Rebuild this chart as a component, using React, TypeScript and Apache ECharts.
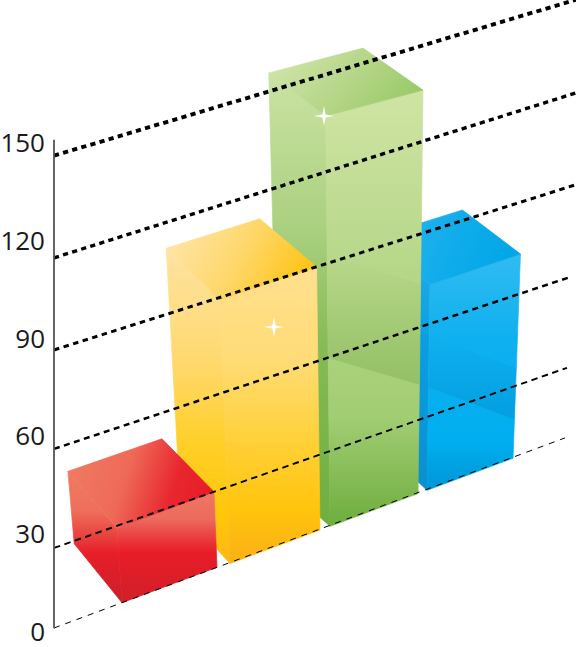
import React, { useEffect, useRef } from "react";
import * as echarts from "echarts";

const CATEGORIES = ["Red", "Yellow", "Green", "Blue"];
const VALUES = [30, 90, 136, 73];
const TICKS = [0, 30, 60, 90, 120, 150];

// Receding guide plane, in y-axis units, one entry per tick
const GUIDE_START = [0.77, 25.36, 55.8, 86.2, 114.5, 145.9];
const GUIDE_SLOPE = [0.1143, 0.1079, 0.1023, 0.0973, 0.0971, 0.0918];
const GUIDE_END_X = [565, 567, 571, 576, 576, 576];
const GUIDE_WIDTH = [1, 1.9, 2.5, 3, 3.4, 3.9];
const GUIDE_DASH = [[6, 6], [6.5, 4.5], [6, 4.5], [5.5, 4.5], [5.2, 4.3], [5.2, 4.3]];

// Layout of each box on the floor
const FLOOR_FRONT_X = [122, 230, 330, 427];
const FLOOR_RIGHT_X = [217, 320, 418, 513];
const FRONT_SHIFT_Y = [2.5, 3, -4, 1];
const FLOOR_SHIFT_Y = [0, 1, 1, 1];
const BACK_SHIFT_Y = [4, 4, 1, 3];
const LEFT_OFFSET = [[-49, -57], [-54, -52], [-57, -43], [-55, -47]];
const VANISH_X = 370;
const TILT = 8.46e-4;
const AXIS_X = 54;

const linear = (x0: number, y0: number, x1: number, y1: number, stops: [number, string][]) =>
  new echarts.graphic.LinearGradient(x0, y0, x1, y1, stops.map(([offset, color]) => ({ offset, color })));

const FACE_STYLES = [
  {
    top: [[0, "#f07a62"], [0.4, "#ee6a58"], [0.75, "#e8262e"], [1, "#e81c28"]],
    topDir: [0, 0.3, 1, 0.5],
    left: [[0, "#f07a62"], [0.3, "#ee6f5c"], [0.5, "#e8403c"], [0.62, "#e81e28"], [1, "#c9202b"]],
    right: [[0, "#ef7764"], [0.25, "#ec6a5c"], [0.45, "#e9343a"], [0.55, "#e81c27"], [1, "#cf2029"]],
  },
  {
    top: [[0, "#fee5a8"], [0.5, "#fed76a"], [1, "#ffc20e"]],
    topDir: [0, 0.3, 1, 0.6],
    left: [[0, "#fee3a2"], [0.35, "#ffd970"], [0.62, "#ffcf28"], [0.85, "#ffc60a"], [1, "#fdb813"]],
    right: [[0, "#ffe08e"], [0.3, "#ffdc78"], [0.6, "#ffd036"], [0.82, "#ffc40c"], [1, "#fbb017"]],
  },
  {
    top: [[0, "#cfe4aa"], [0.5, "#b6d688"], [1, "#97c966"]],
    topDir: [0, 0.3, 1, 0.7],
    left: [[0, "#cbe2a3"], [0.35, "#a9d07f"], [0.6, "#86bb55"], [1, "#6fae3f"]],
    right: [[0, "#cfe4a4"], [0.45, "#b4d686"], [0.75, "#a2cd73"], [1, "#6dad3e"]],
  },
  {
    top: [[0, "#2ab5ee"], [0.6, "#0dabea"], [1, "#00a6e6"]],
    topDir: [0, 0.4, 1, 0.6],
    left: [[0, "#28aeea"], [0.4, "#0a9fe0"], [1, "#0a8fd0"]],
    right: [[0, "#30bcf1"], [0.35, "#10b0ef"], [0.8, "#00aeef"], [1, "#0095d6"]],
  },
];

// Shaded sweep on the front-right faces: where it ends on the near and far edge, its tint
const SWEEP_NEAR = [0, 0, 0.59, 0.5];
const SWEEP_FAR = [0, 0, 0.73, 0.81];
const SWEEP_TINT = ["", "", "74,130,32", "0,96,160"];

const SPARKLES = [[324, 116], [274, 327]];

function guideLevel(x: number, value: number) {
  const i = Math.min(Math.floor(value / 30), TICKS.length - 2);
  const t = (value - TICKS[i]) / 30;
  const a = GUIDE_START[i] + GUIDE_SLOPE[i] * (x - AXIS_X);
  const b = GUIDE_START[i + 1] + GUIDE_SLOPE[i + 1] * (x - AXIS_X);
  return a + (b - a) * t;
}

function renderBox(params: any, api: any) {
  const c = api.value(0) as number;
  const value = api.value(1) as number;
  const style = FACE_STYLES[c];
  const fx = FLOOR_FRONT_X[c];
  const rx = FLOOR_RIGHT_X[c];

  const floor = (x: number, dy: number) => {
    const p = api.coord([x, guideLevel(x, 0)]);
    return [p[0], p[1] + dy];
  };
  const lift = (x: number) => guideLevel(x, value) - guideLevel(x, 0);
  const lean = (x: number) => x + (x - VANISH_X) * TILT * lift(x);

  const bf = floor(fx, FLOOR_SHIFT_Y[c]);
  const br = floor(rx, FLOOR_SHIFT_Y[c]);
  const tfx = lean(fx);
  const trx = lean(rx);
  const tfRaw = api.coord([tfx, guideLevel(tfx, value)]);
  const tf = [tfRaw[0], tfRaw[1] + FRONT_SHIFT_Y[c]];
  const tr = api.coord([trx, guideLevel(trx, value)]);
  const [ox, oy] = LEFT_OFFSET[c];
  const tl = [tf[0] + ox, tf[1] + oy];
  const tb = [tl[0] + tr[0] - tf[0] - 3, tl[1] + tr[1] - tf[1] + BACK_SHIFT_Y[c]];
  const blx = tl[0] - (tl[0] - VANISH_X) * TILT * lift(tl[0]);
  const bl = [blx, bf[1] + oy - 2];

  // a hairline of the face's own paint closes the seams between adjoining faces
  const poly = (points: number[][], fill: any) => ({
    type: "polygon",
    shape: { points },
    style: { fill, stroke: fill, lineWidth: 0.7 },
  });
  const down = (stops: any) => linear(0, 0, 0, 1, stops);
  const [d0, d1, d2, d3] = style.topDir as number[];

  const children: any[] = [
    poly([tl, tf, bf, bl], down(style.left)),
    poly([tf, tr, br, bf], down(style.right)),
    poly([tl, tb, tr, tf], linear(d0, d1, d2, d3, style.top as any)),
  ];

  if (SWEEP_TINT[c]) {
    const along = (a: number[], b: number[], t: number) => [a[0] + (b[0] - a[0]) * t, a[1] + (b[1] - a[1]) * t];
    const near = SWEEP_NEAR[c];
    const far = SWEEP_FAR[c];
    children.push({
      type: "polygon",
      shape: {
        points: [along(tf, bf, near - 0.25), along(tr, br, far - 0.25), along(tr, br, far), along(tf, bf, near)],
      },
      style: {
        stroke: "none",
        fill: linear(0, 0, 0, 1, [
          [0, `rgba(${SWEEP_TINT[c]},0)`],
          [1, `rgba(${SWEEP_TINT[c]},0.2)`],
        ]),
      },
    });
  }
  return { type: "group", children };
}

function renderGuide(params: any, api: any) {
  const i = params.dataIndex as number;
  const end = GUIDE_END_X[i];
  const a = api.coord([AXIS_X, GUIDE_START[i]]);
  const b = api.coord([end, GUIDE_START[i] + GUIDE_SLOPE[i] * (end - AXIS_X)]);
  return {
    type: "line",
    shape: { x1: a[0], y1: a[1], x2: b[0], y2: b[1] },
    style: { stroke: "#000", lineWidth: GUIDE_WIDTH[i], lineDash: GUIDE_DASH[i], fill: "none" },
  };
}

function renderAxisLine(params: any, api: any) {
  const a = api.coord([AXIS_X, 150.8]);
  const b = api.coord([AXIS_X, 0.68]);
  return {
    type: "line",
    shape: { x1: a[0], y1: a[1], x2: b[0], y2: b[1] },
    style: { stroke: "#555", lineWidth: 1.8, fill: "none" },
  };
}

function sparkle(cx: number, cy: number) {
  const arm = 10;
  const waist = 1.6;
  return {
    type: "polygon",
    silent: true,
    z: 20,
    shape: {
      points: [
        [cx, cy - arm],
        [cx + waist, cy - waist],
        [cx + arm, cy],
        [cx + waist, cy + waist],
        [cx, cy + arm],
        [cx - waist, cy + waist],
        [cx - arm, cy],
        [cx - waist, cy - waist],
      ],
    },
    style: { fill: "#fff", stroke: "none" },
  };
}

export default function App() {
  const ref = useRef<HTMLDivElement>(null);
  useEffect(() => {
    const chart = echarts.init(ref.current!, undefined, { renderer: "svg" });
    // far boxes are painted first so that the nearer ones cover them
    const boxes = CATEGORIES.map((name, i) => ({ name, value: [i, VALUES[i]] })).reverse();
    chart.setOption({
      animation: false,
      backgroundColor: "#fff",
      grid: { left: AXIS_X, right: 0, top: 142.3, bottom: 16.5, containLabel: false, outerBoundsMode: "none" },
      xAxis: { type: "value", min: AXIS_X, max: 576, show: false },
      yAxis: {
        type: "value",
        min: 0,
        max: 150,
        interval: 30,
        axisLine: { show: false },
        axisTick: { show: false },
        splitLine: { show: false },
        axisLabel: {
          margin: 9,
          fontFamily: "Open Sans",
          fontSize: 26,
          color: "#1a1a1a",
          formatter: (v: number) => (TICKS.includes(v) ? String(v) : ""),
        },
      },
      graphic: SPARKLES.map(([x, y]) => sparkle(x, y)),
      series: [
        {
          type: "custom",
          name: "Boxes",
          z: 2,
          clip: false,
          silent: true,
          renderItem: renderBox,
          encode: { x: 0, y: 1 },
          data: boxes,
        },
        {
          type: "custom",
          name: "Guides",
          z: 3,
          clip: false,
          silent: true,
          renderItem: renderGuide,
          encode: { x: 0, y: 1 },
          data: TICKS.map((t) => [AXIS_X, t]),
        },
        {
          type: "custom",
          name: "Axis",
          z: 3,
          clip: false,
          silent: true,
          renderItem: renderAxisLine,
          encode: { x: 0, y: 1 },
          data: [[AXIS_X, 0]],
        },
      ],
    });
    return () => chart.dispose();
  }, []);
  return <div ref={ref} style={{ position: "fixed", left: 0, top: 0, width: 576, height: 647 }} />;
}
